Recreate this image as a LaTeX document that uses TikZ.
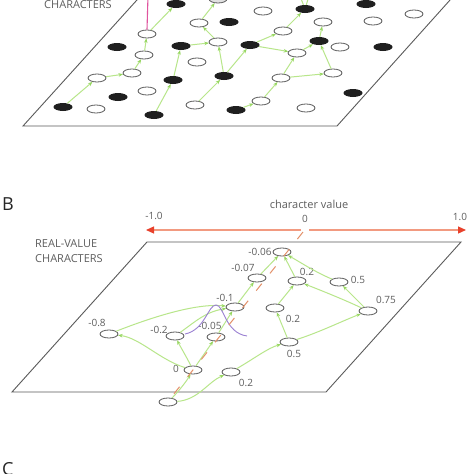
\documentclass[tikz,border=0pt]{standalone}
\usepackage{fontspec}
\setmainfont{Open Sans}
\usetikzlibrary{shapes.geometric,arrows.meta}
\definecolor{edgegreen}{HTML}{B8E68A}
\definecolor{arrgreen}{HTML}{96D660}
\definecolor{planegray}{HTML}{5A5A5A}
\definecolor{txtgray}{HTML}{5E5E5E}
\definecolor{pinkl}{HTML}{E0559F}
\definecolor{salmon}{HTML}{F29A80}
\definecolor{tipred}{HTML}{E8412C}
\definecolor{dashor}{HTML}{E39068}
\definecolor{purp}{HTML}{9A80D2}
\begin{document}
\begin{tikzpicture}[x=1pt,y=-1pt,
  plane/.style={draw=planegray,line width=0.9pt,line join=miter},
  wdot/.style={ellipse,draw=black!65,line width=0.8pt,fill=white,minimum width=18pt,minimum height=8pt,inner sep=0pt},
  bdot/.style={ellipse,fill=black!88,minimum width=19pt,minimum height=8pt,inner sep=0pt},
  gedge/.style={draw=edgegreen,line width=1pt,-{Stealth[length=4.5pt,width=3.5pt,color=arrgreen]}},
  lbl/.style={text=txtgray,font=\fontsize{10}{12}\selectfont,inner sep=0pt},
  caps/.style={text=txtgray,font=\fontsize{11}{13}\selectfont,inner sep=0pt},
  panel/.style={text=black!85,font=\fontsize{18}{20}\selectfont,inner sep=0pt}]
\useasboundingbox (0,0) rectangle (474,474);
\clip (0,0) rectangle (474,474);
\fill[white] (0,0) rectangle (474,474);

% ---------------- Panel A ----------------
\node[caps,anchor=base] (tA) at (78,8) {CHARACTERS};
\draw[plane] (146,-10) -- (23,126) -- (337,126) -- (459,-10);

\node[bdot] (ab1) at (176,4) {};
\node[wdot,fill=black!12] (ag1) at (218,-1) {};
\node[wdot] (aw1) at (199,23) {};
\node[bdot] (ab2) at (229,22) {};
\node[wdot] (aw2) at (147,34) {};
\node[bdot] (ab3) at (117,47) {};
\node[wdot] (aw3) at (144,55) {};
\node[bdot] (ab4) at (181,46) {};
\node[wdot] (aw4) at (218,42) {};
\node[wdot] (aw5) at (197,62) {};
\node[wdot] (aw6) at (97,78) {};
\node[wdot] (aw7) at (132,73) {};
\node[bdot] (ab5) at (173,80) {};
\node[bdot] (ab6) at (224,76) {};
\node[bdot] (ab7) at (63,107) {};
\node[wdot] (aw8) at (96,109) {};
\node[bdot] (ab8) at (118,97) {};
\node[wdot] (aw9) at (147,91) {};
\node[bdot] (ab9) at (154,115) {};
\node[wdot] (aw10) at (195,105) {};
\node[bdot] (ab10) at (236,110) {};
\node[bdot] (ab11) at (366,4) {};
\node[wdot] (aw11) at (263,11) {};
\node[bdot] (ab12) at (305,9) {};
\node[wdot] (aw12) at (323,22) {};
\node[wdot] (aw13) at (373,21) {};
\node[wdot] (aw14) at (414,14) {};
\node[wdot] (aw15) at (283,31) {};
\node[bdot] (ab13) at (250,45) {};
\node[bdot] (ab14) at (319,41) {};
\node[wdot] (aw16) at (340,47) {};
\node[bdot] (ab15) at (383,47) {};
\node[wdot] (aw17) at (297,53) {};
\node[wdot] (aw18) at (281,78) {};
\node[wdot] (aw19) at (333,73) {};
\node[bdot] (ab16) at (353,93) {};
\node[wdot] (aw20) at (261,101) {};
\node[wdot] (aw21) at (306,108) {};

\coordinate (atop1) at (300,-4);
\coordinate (atop2) at (309,-4);
\coordinate (pinktop) at (148,-4);

\draw[gedge] (ab7) -- (aw6);
\draw[gedge] (aw6) -- (aw7);
\draw[gedge] (aw7) -- (aw3);
\draw[gedge] (aw3) -- (aw2);
\draw[gedge] (aw2) -- (ab1);
\draw[gedge] (ab9) -- (ab5);
\draw[gedge] (ab5) -- (ab4);
\draw[gedge] (ab4) -- (aw4);
\draw[gedge] (aw4) -- (aw1);
\draw[gedge] (aw1) -- (ag1);
\draw[gedge] (ab6) -- (aw4);
\draw[gedge] (aw10) -- (ab6);
\draw[gedge] (ab6) -- (ab13);
\draw[gedge] (ab13) -- (aw15);
\draw[gedge] (aw15) -- (ab12);
\draw[draw=edgegreen,line width=1pt] (ab12) -- (atop1);
\draw[draw=edgegreen,line width=1pt] (ab12) -- (atop2);
\draw[gedge] (ab13) -- (aw17);
\draw[gedge] (aw17) -- (ab14);
\draw[gedge] (aw18) -- (aw17);
\draw[gedge] (aw18) -- (aw19);
\draw[gedge] (aw19) -- (ab14);
\draw[gedge] (ab14) -- (aw12);
\draw[gedge] (ab10) -- (aw20);
\draw[gedge] (aw20) -- (aw18);

\draw[pinkl,line width=1.1pt] (pinktop) -- (aw2.north);

% ---------------- Panel B ----------------
\node[panel,anchor=base west] (pB) at (2,210) {B};
\node[lbl,font=\fontsize{11}{13}\selectfont,anchor=base] (cv) at (309,208) {character value};
\node[lbl,anchor=base] (vm1) at (154,219) {-1.0};
\node[lbl,anchor=base] (v0) at (305,222) {0};
\node[lbl,anchor=base] (vp1) at (460,220) {1.0};
\node[caps,anchor=base west] (rv1) at (35,247) {REAL-VALUE};
\node[caps,anchor=base west] (rv2) at (35,262) {CHARACTERS};

\coordinate (axL) at (146,230);
\coordinate (axGL) at (301,230);
\coordinate (axGR) at (309,230);
\coordinate (axR) at (466,230);
\draw[salmon,line width=1.2pt,{Triangle[length=8pt,width=7pt,color=tipred]}-] (axL) -- (axGL);
\draw[salmon,line width=1.2pt,-{Triangle[length=8pt,width=7pt,color=tipred]}] (axGR) -- (axR);

\draw[plane] (147,242) -- (461,242) -- (326,392) -- (12,392) -- cycle;

\node[wdot] (bot) at (168,402) {};
\node[wdot] (n0) at (193,370) {};
\node[wdot] (p02c) at (231,372) {};
\node[wdot] (m02) at (175,336) {};
\node[wdot] (m005) at (216,337) {};
\node[wdot] (m08) at (109,334) {};
\node[wdot] (m01) at (235,307) {};
\node[wdot] (m007) at (257,278) {};
\node[wdot] (m006) at (282,252) {};
\node[wdot] (p02a) at (297,281) {};
\node[wdot] (p05a) at (339,282) {};
\node[wdot] (p075) at (368,311) {};
\node[wdot] (p02b) at (275,308) {};
\node[wdot] (p05b) at (289,342) {};

\node[lbl] (lm006) at (260,252) {-0.06};
\node[lbl] (lm007) at (243,268) {-0.07};
\node[lbl] (lm01) at (225,298) {-0.1};
\node[lbl] (lm02) at (159,330) {-0.2};
\node[lbl] (lm005) at (210,326) {-0.05};
\node[lbl] (lm08) at (97,323) {-0.8};
\node[lbl] (ln0) at (176,369) {0};
\node[lbl] (lp02c) at (246,383) {0.2};
\node[lbl] (lp02b) at (293,319) {0.2};
\node[lbl] (lp05b) at (294,354) {0.5};
\node[lbl] (lp075) at (386,300) {0.75};
\node[lbl] (lp05a) at (358,280) {0.5};
\node[lbl] (lp02a) at (307,272) {0.2};

\draw[gedge] (bot) .. controls (178,392) and (186,382) .. (n0);
\draw[gedge] (bot) .. controls (198,400) and (208,382) .. (p02c);
\draw[gedge] (n0) .. controls (186,356) and (180,346) .. (m02);
\draw[gedge] (n0) -- (m005);
\draw[gedge] (n0) .. controls (160,360) and (140,338) .. (m08);
\draw[gedge] (m08) .. controls (150,318) and (195,303) .. (m01);
\draw[gedge] (m02) .. controls (195,322) and (205,312) .. (m01);
\draw[gedge] (m005) -- (m01);
\draw[gedge] (m01) -- (m007);
\draw[gedge] (m007) -- (m006);
\draw[gedge] (p02a) -- (m006);
\draw[gedge] (p05a) .. controls (315,272) and (300,262) .. (m006);
\draw[gedge] (p075) .. controls (345,300) and (320,290) .. (p02a);
\draw[gedge] (p075) -- (p05a);
\draw[gedge] (p02b) -- (p02a);
\draw[gedge] (p05b) -- (p02b);
\draw[gedge] (p05b) .. controls (320,332) and (340,322) .. (p075);
\draw[gedge] (p02c) .. controls (255,358) and (268,348) .. (p05b);

\draw[purp,line width=0.9pt] (185,334) .. controls (205,330) and (208,305) .. (216,305)
  .. controls (224,305) and (225,333) .. (247,336);

\coordinate (dtop) at (303,232);
\coordinate (dbot) at (169,400);
\draw[dashor,line width=1pt,dash pattern=on 9pt off 13pt] (dtop) -- (dbot);

% ---------------- Panel C ----------------
\node[panel,anchor=base west] (pC) at (2,475) {C};
\end{tikzpicture}
\end{document}
